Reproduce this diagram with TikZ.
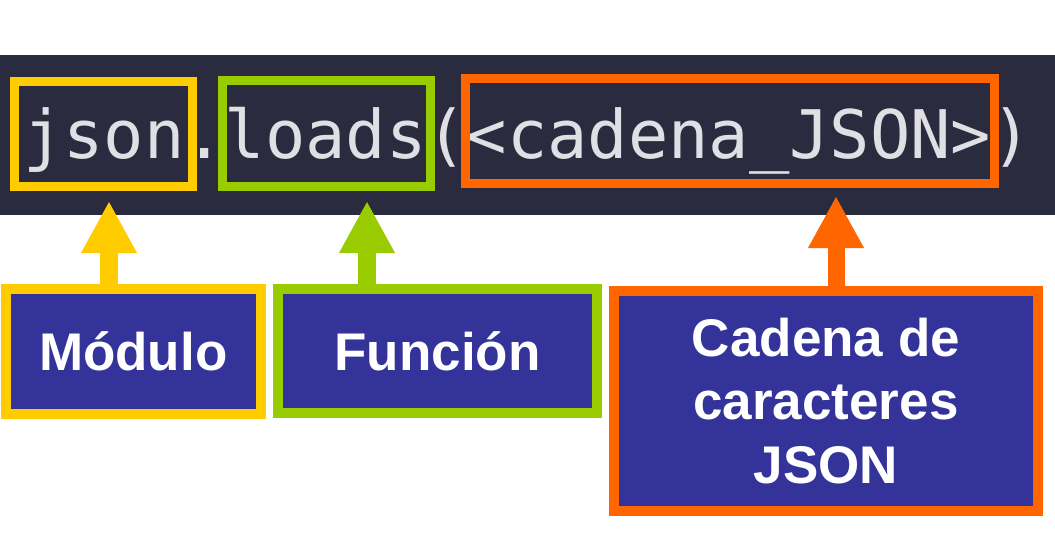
\documentclass[tikz,border=0pt]{standalone}
\usepackage{fontspec}
\setmainfont{Liberation Sans}
\newfontfamily\codefont{DejaVu Sans Mono}
\usetikzlibrary{arrows.meta}
\definecolor{band}{HTML}{2B2B40}
\definecolor{yel}{HTML}{FFCC00}
\definecolor{grn}{HTML}{99CC00}
\definecolor{org}{HTML}{FF6600}
\definecolor{boxfill}{HTML}{333399}
\definecolor{codetxt}{HTML}{DFDFE4}
\begin{document}
\begin{tikzpicture}[x=1pt,y=-1pt,
  codebox/.style={draw=#1, line width=9pt, inner sep=0pt},
  lblbox/.style={draw=#1, fill=boxfill, line width=10pt, text=white, inner sep=0pt, align=center,
    font=\bfseries\fontsize{53}{63.5}\selectfont},
  upar/.style={draw=#1, line width=18pt, -{Triangle[width=52pt,length=52pt]}}]
\useasboundingbox (0,0) rectangle (1055,536);
\fill[band] (0,55) rectangle (1055,215);
\node[anchor=base west, inner sep=0pt, text=codetxt, font=\codefont\fontsize{67}{80}\selectfont] (code) at (23,158.3) {json.loads(<cadena\_JSON>)};
\node[codebox=yel, minimum width=178.5pt, minimum height=105.5pt] (jbox) at (103.25,133.75) {};
\node[codebox=grn, minimum width=207.8pt, minimum height=106pt] (lbox) at (326.6,133) {};
\node[codebox=org, minimum width=528.5pt, minimum height=105pt] (cbox) at (729.75,131) {};
\node[lblbox=yel, minimum width=255.5pt, minimum height=124.5pt] (mod) at (133.25,351.25) {Módulo};
\node[lblbox=grn, minimum width=319pt, minimum height=124pt] (fun) at (437.5,351) {Función};
\node[lblbox=org, minimum width=424pt, minimum height=220pt] (cad) at (826,401) {Cadena de\\caracteres\\JSON};
\coordinate (tA) at (109,201);
\coordinate (tB) at (367,201);
\coordinate (tC) at (836,196);
\draw[upar=yel] (tA |- mod.north) -- (tA);
\draw[upar=grn] (tB |- fun.north) -- (tB);
\draw[upar=org, line width=17pt] (tC |- cad.north) -- (tC);
\end{tikzpicture}
\end{document}
